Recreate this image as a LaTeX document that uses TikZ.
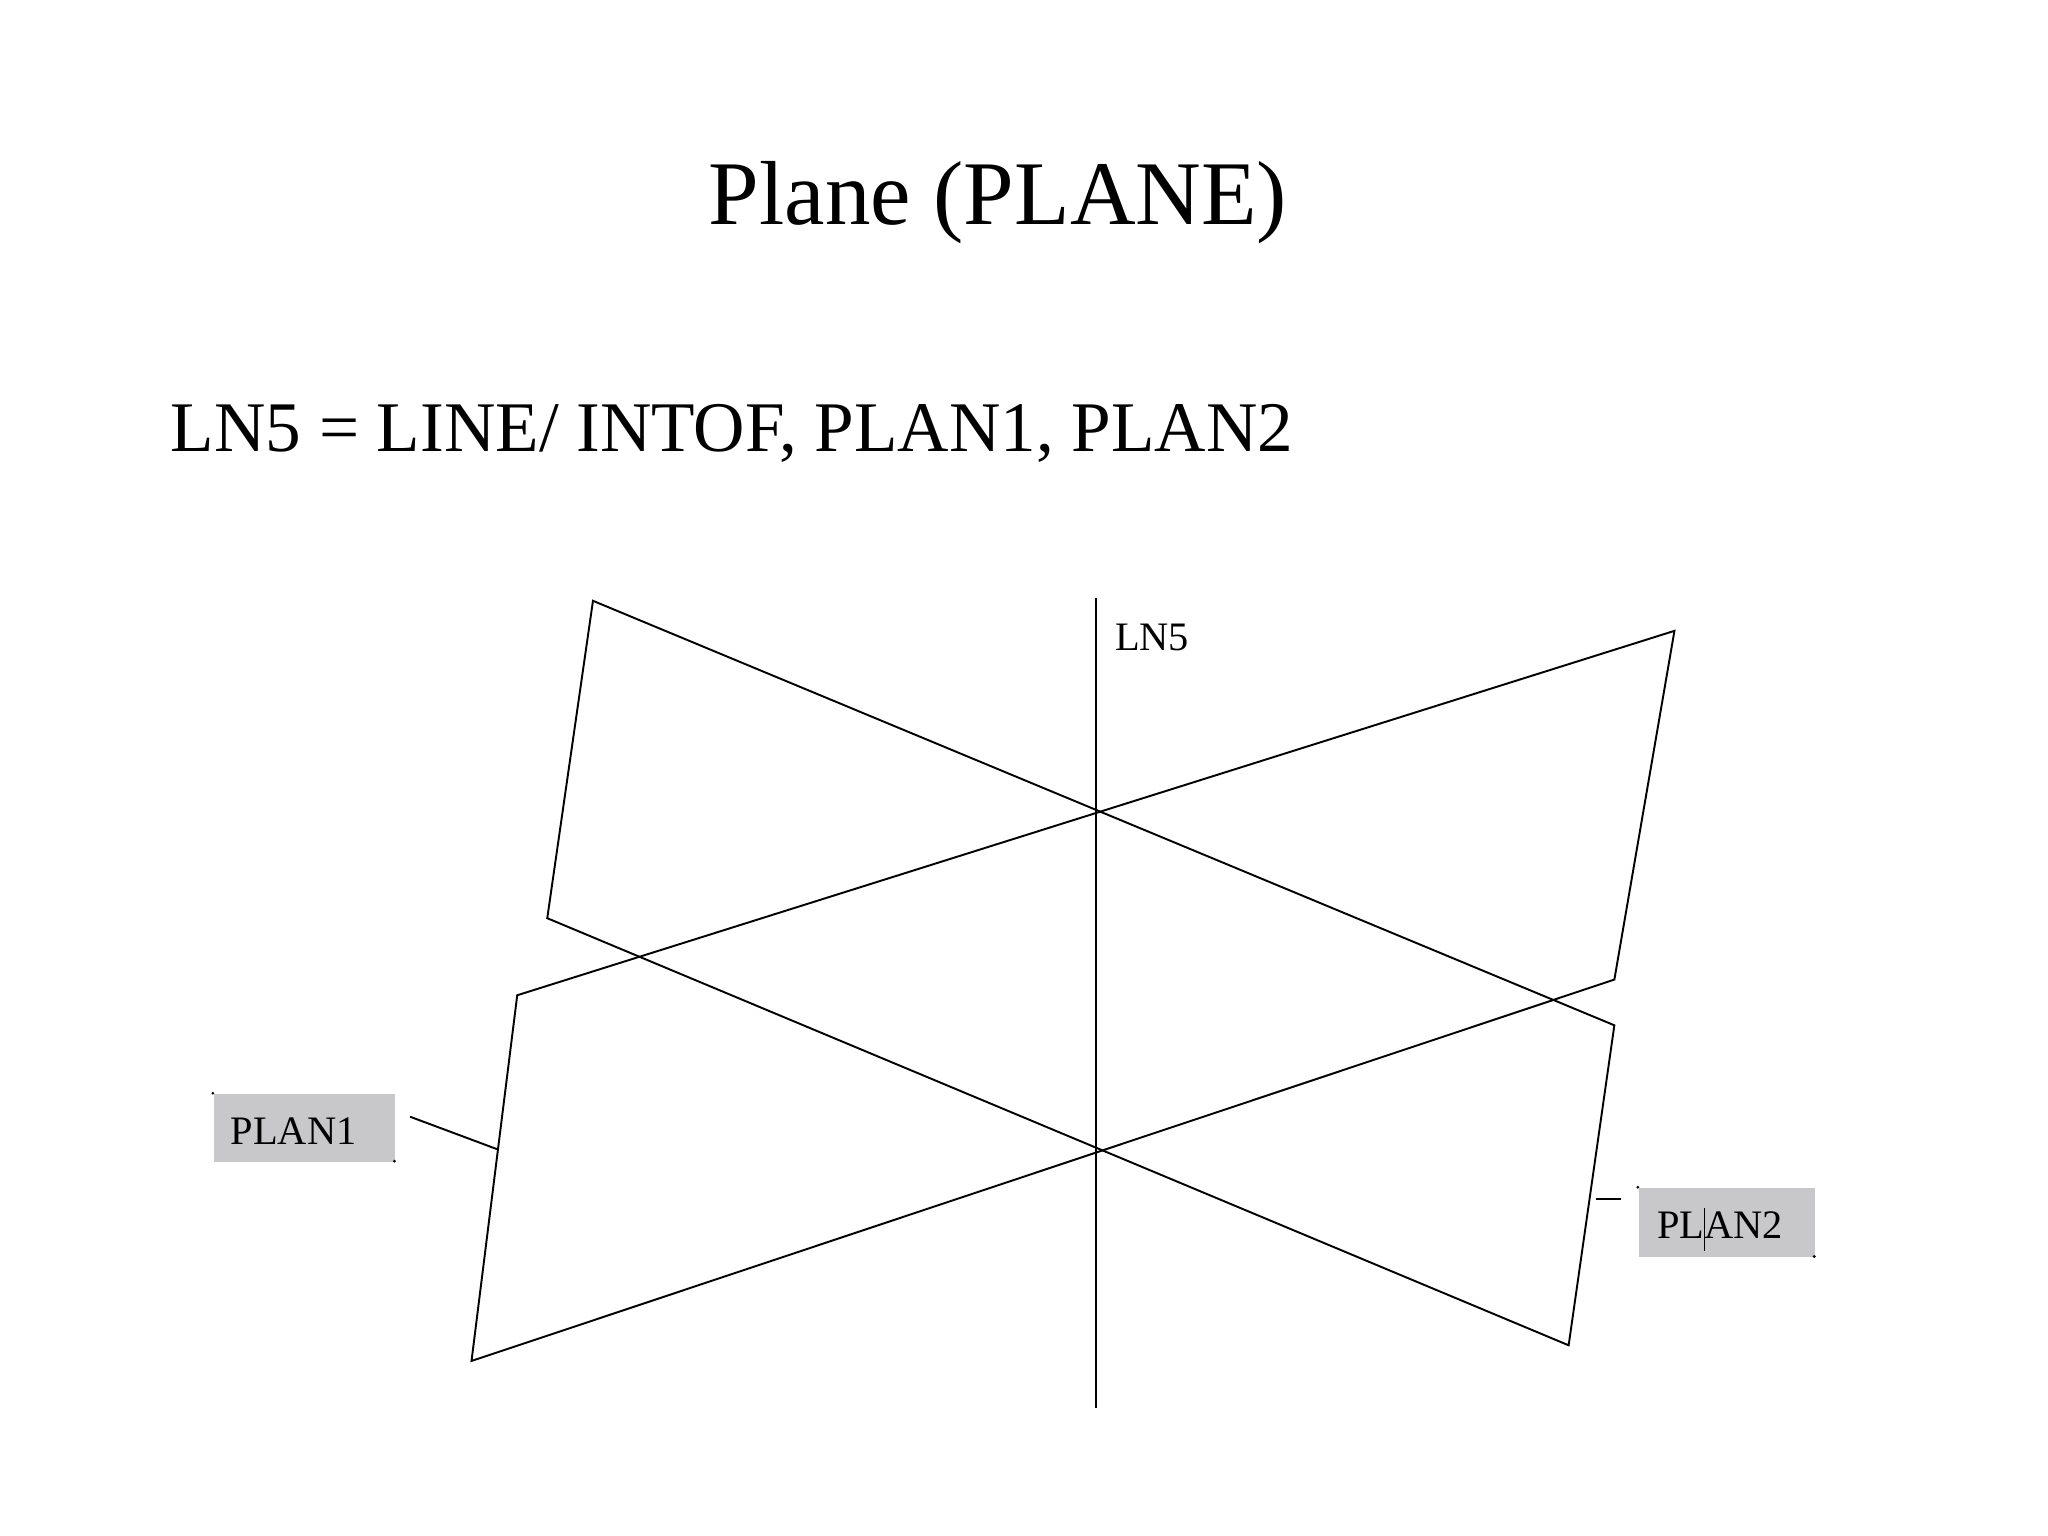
\documentclass[tikz,border=0pt]{standalone}
\usepackage{fontspec}
\setmainfont{Liberation Serif}
\definecolor{boxgray}{RGB}{200,200,202}
\begin{document}
\begin{tikzpicture}[x=0.01cm,y=-0.01cm,
  edge/.style={draw=black,line width=0.42pt,line join=miter},
  lbl/.style={inner sep=0pt,anchor=base west,font=\fontsize{8.8}{10}\selectfont},
  graybox/.style={fill=boxgray,draw=none,inner sep=0pt,anchor=north west}]
\useasboundingbox[fill=white] (0,0) rectangle (1568,1176);
% title and statement
\node[inner sep=0pt,anchor=base west,font=\fontsize{19.8}{24}\selectfont] (title) at (542,172) {Plane (PLANE)};
\node[inner sep=0pt,anchor=base west,font=\fontsize{15.5}{19}\selectfont] (stmt) at (130,346) {LN5 = LINE/ INTOF, PLAN1, PLAN2};
% plane 1 (upper-left to lower-right)
\coordinate (a1) at (454,460);
\coordinate (a2) at (1236,785);
\coordinate (a3) at (1201,1030);
\coordinate (a4) at (419,703);
% plane 2 (upper-right to lower-left)
\coordinate (b1) at (1282,483);
\coordinate (b2) at (396,762);
\coordinate (b3) at (361,1042);
\coordinate (b4) at (1236,750);
\draw[edge] (a1) -- (a2) -- (a3) -- (a4) -- cycle;
\draw[edge] (b1) -- (b2) -- (b3) -- (b4) -- cycle;
% intersection line LN5
\coordinate (ltop) at (839,458);
\coordinate (lbot) at (839,1078);
\draw[edge] (ltop) -- (lbot);
\node[lbl] (ln5) at (853,498) {LN5};
% PLAN1 label
\node[graybox,minimum width=1.39cm,minimum height=0.52cm] (p1box) at (163,837) {};
\node[lbl] (p1) at (176,876) {PLAN1};
\coordinate (p1s) at (314,855);
\coordinate (p1e) at (381,880);
\draw[edge] (p1s) -- (p1e);
\fill (163,837) circle (1.2);
\fill (302,889) circle (1.2);
% PLAN2 label
\node[graybox,minimum width=1.35cm,minimum height=0.53cm] (p2box) at (1254,909) {};
\node[lbl] (p2) at (1268,948) {PLAN2};
\coordinate (p2s) at (1222,918);
\coordinate (p2e) at (1241,918);
\draw[edge] (p2s) -- (p2e);
\coordinate (cur1) at (1305,925);
\coordinate (cur2) at (1305,958);
\draw[line width=0.4pt] (cur1) -- (cur2);
\fill (1254,909) circle (1.2);
\fill (1389,962) circle (1.2);
\end{tikzpicture}
\end{document}
